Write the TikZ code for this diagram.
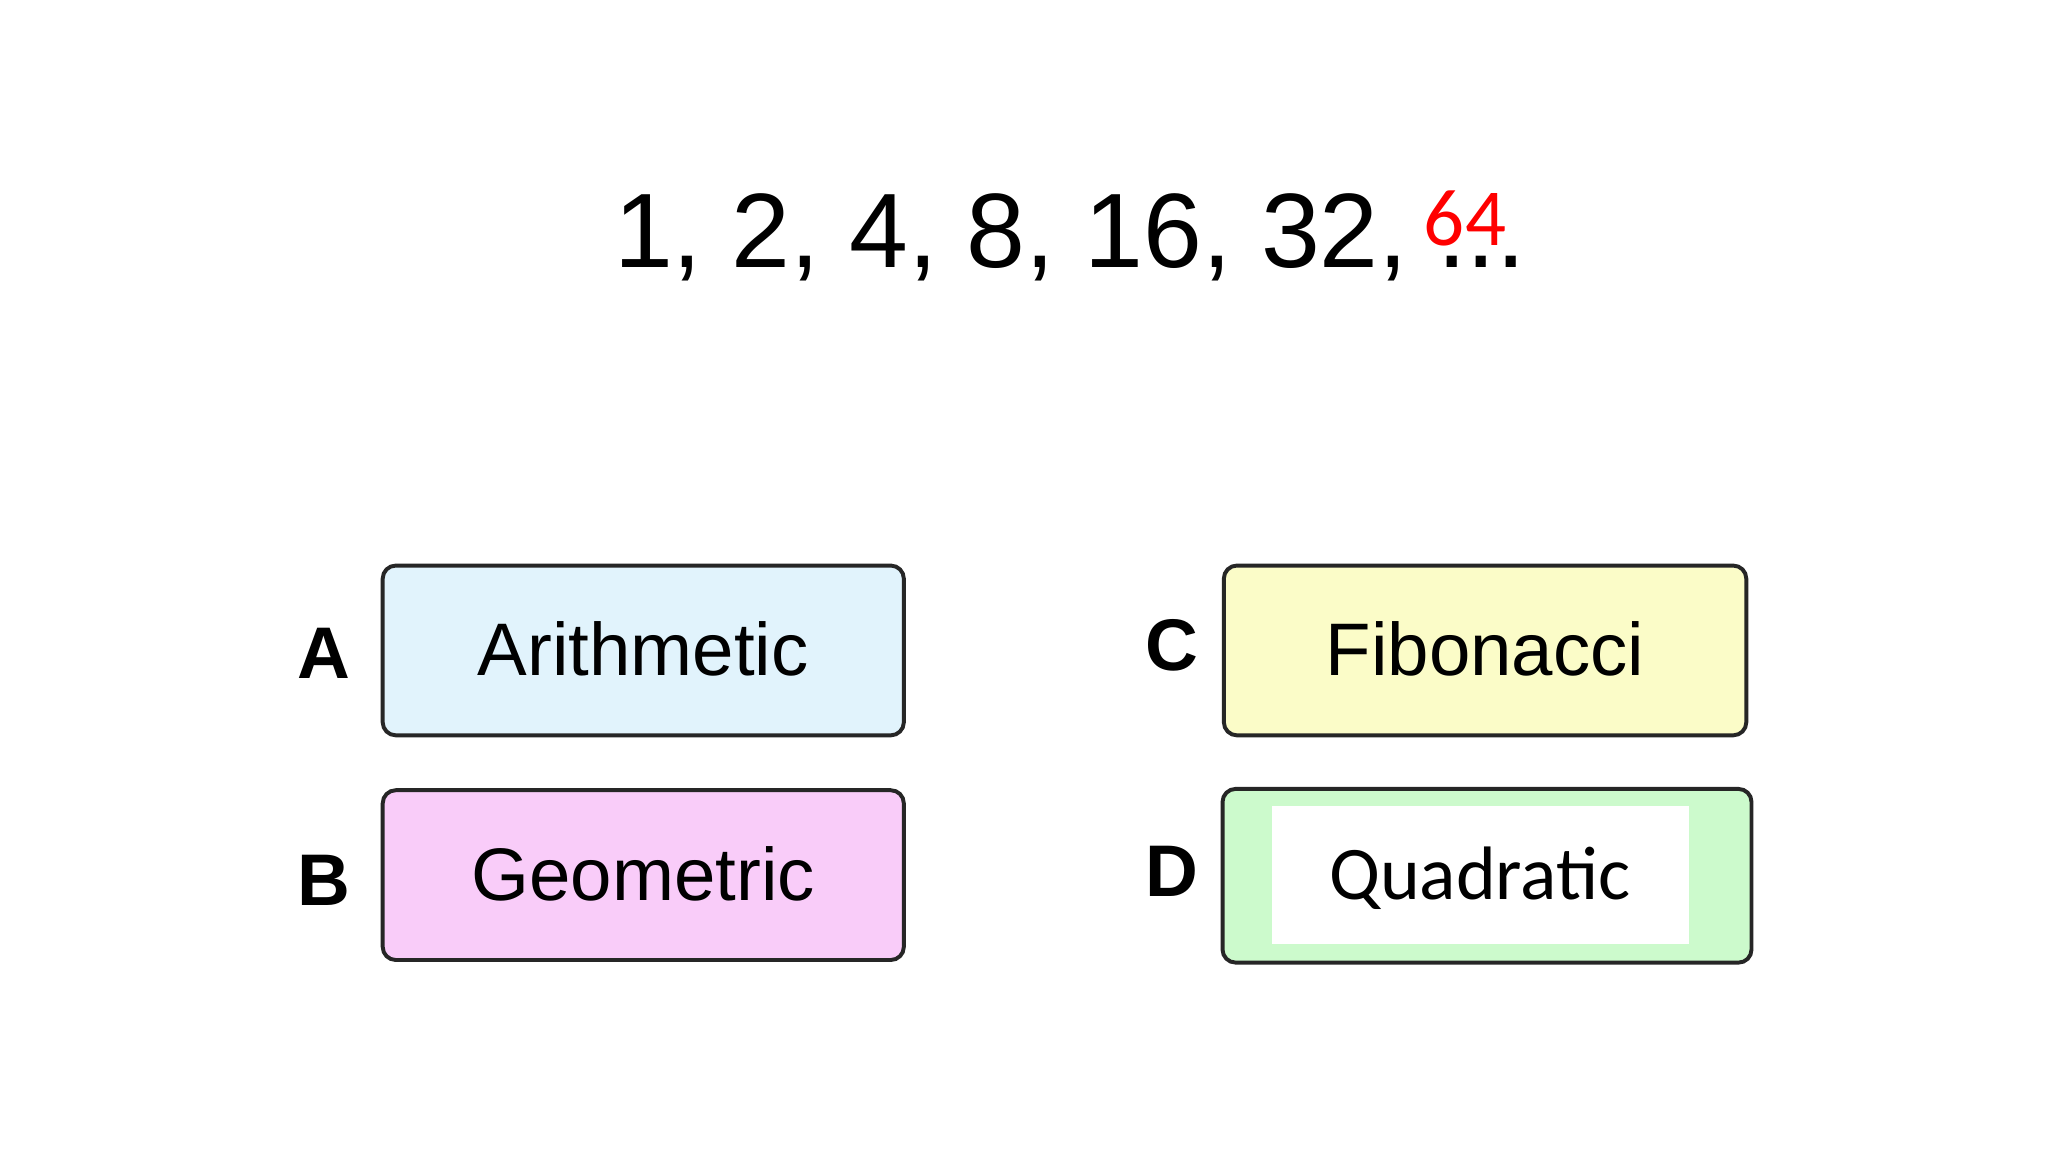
\documentclass[tikz,border=0pt]{standalone}
\usepackage{fontspec}
\setmainfont{Liberation Sans}
\newfontfamily\carlitofont{Carlito}
\definecolor{cA}{HTML}{E1F3FC}
\definecolor{cB}{HTML}{F9CCF9}
\definecolor{cC}{HTML}{FBFCC8}
\definecolor{cD}{HTML}{CCFACC}
\begin{document}
\begin{tikzpicture}[x=1pt,y=-1pt,
  opt/.style={draw=black!85,line width=3pt,rounded corners=10pt},
  lbl/.style={font=\fontsize{57}{64}\selectfont},
  let/.style={font=\fontsize{56}{60}\selectfont\bfseries}]
\useasboundingbox (0,0) rectangle (1568,882);
\node[anchor=base west,inner sep=0,font=\fontsize{81}{90}\selectfont] (seq) at (470,205) {1, 2, 4, 8, 16, 32, ...};
\node[anchor=base west,inner sep=0,text=red,font=\carlitofont\fontsize{62}{66}\selectfont] (ans) at (1090,188) {64};
\draw[opt,fill=cA] (293,433) rectangle (692,563);
\node[lbl] (a) at (492.5,497) {Arithmetic};
\draw[opt,fill=cB] (293,605) rectangle (692,735);
\node[lbl] (b) at (492.5,669) {Geometric};
\draw[opt,fill=cC] (937,433) rectangle (1337,563);
\node[lbl] (c) at (1137,497) {Fibonacci};
\draw[opt,fill=cD] (936,604) rectangle (1341,737);
\fill[white] (974,617) rectangle (1293,723);
\node[font=\carlitofont\fontsize{58}{62}\selectfont] (d) at (1133,672) {Quadratic};
\node[let] (la) at (248,500) {A};
\node[let] (lb) at (248,674) {B};
\node[let] (lc) at (897,494) {C};
\node[let] (ld) at (897,667) {D};
\end{tikzpicture}
\end{document}
